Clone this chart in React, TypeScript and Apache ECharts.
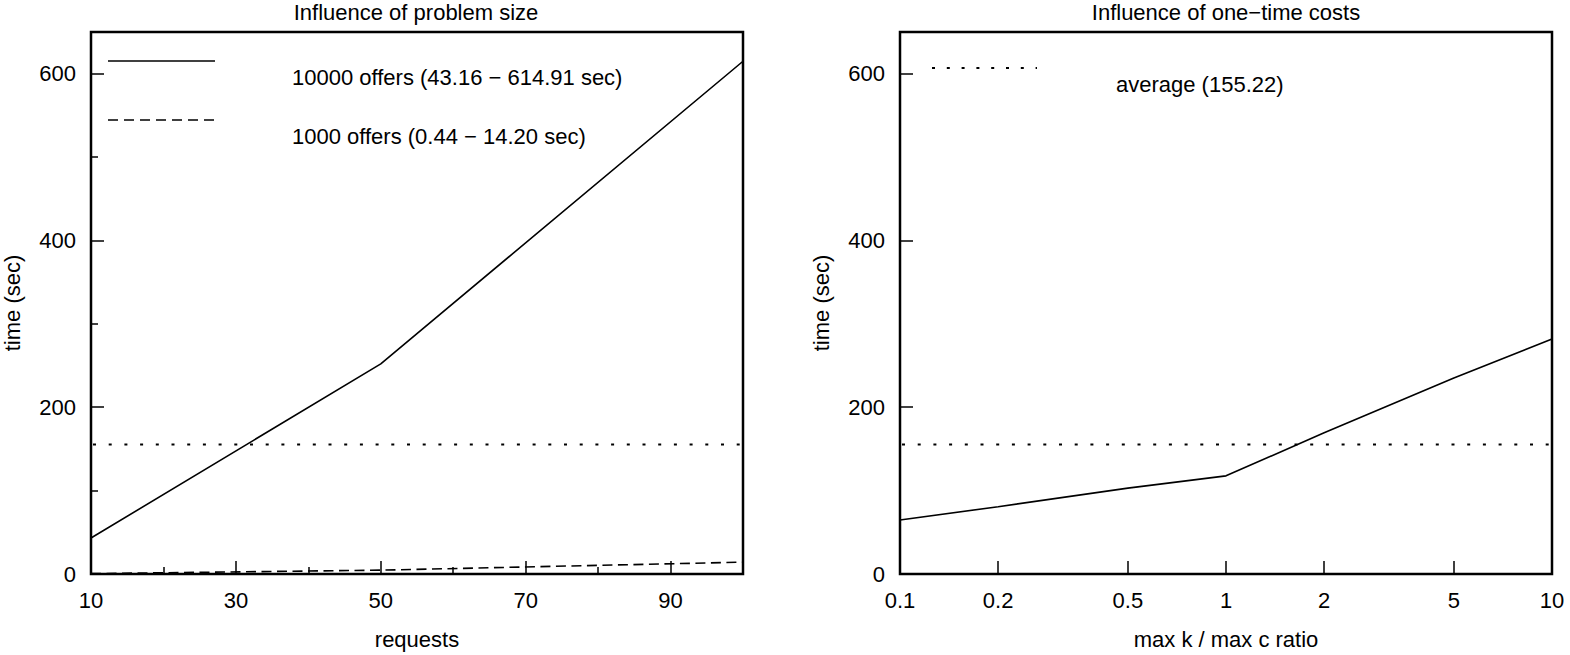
import React, { useEffect, useRef } from "react";
import * as echarts from "echarts";

// ---- data ----
const REQUESTS = [10, 50, 100];
const TIME_10000 = [43.16, 252, 614.91];
const TIME_1000 = [0.44, 4.6, 14.2];
const OFFERS = [10000, 1000];

const RATIOS = [0.1, 0.2, 0.5, 1, 2, 5, 10];
const TIME_RATIO = [64.8, 80.7, 103, 117.7, 169.4, 235, 281.9];

const AVERAGE = 155.22;

const X1_LABELS = [10, 30, 50, 70, 90];
const X1_MAJOR_TICKS = [30, 50, 70, 90];
const X1_MINOR_TICKS = [20, 40, 60, 80];
const Y_LABELS = [0, 200, 400, 600];
const Y_MINOR_TICKS = [100, 300, 500];
const X2_LABELS = [0.1, 0.2, 0.5, 1, 2, 5, 10];
const X2_TICKS = [0.2, 0.5, 1, 2, 5];

const TITLES = ["Influence of problem size", "Influence of one\u2212time costs"];
const X_NAMES = ["requests", "max k / max c ratio"];
const Y_NAME = "time (sec)";

const FONT = '"Liberation Sans", Arial, sans-serif';
const FS = 22;
const DOTS = [3, 12.7];

const pairs = (xs: number[], ys: number[]) => xs.map((x, i) => [x, ys[i]]);
const rangeText = (ys: number[]) =>
  `${Math.min(...ys).toFixed(2)} \u2212 ${Math.max(...ys).toFixed(2)} sec`;

export default function App() {
  const ref = useRef<HTMLDivElement>(null);
  useEffect(() => {
    if (!ref.current) return;
    const chart = echarts.init(ref.current, undefined, { renderer: "svg" });
    const grids = [
      { left: 89, top: 32, width: 654, height: 545 },
      { left: 900, top: 32, width: 652, height: 545 },
    ];
    const axisLabel = { color: "#000", fontSize: FS, fontFamily: FONT, margin: 15 };
    const nameText = { color: "#000", fontSize: FS, fontFamily: FONT };
    const black = { color: "#000", width: 1.5 };
    const lineSeries = (xi: number, yi: number, data: number[][], type: any, width = 1.6, dashOffset = 0) => ({
      type: "line",
      xAxisIndex: xi,
      yAxisIndex: yi,
      data,
      symbol: "none",
      showSymbol: false,
      silent: true,
      lineStyle: { color: "#000", width, type, cap: "butt", dashOffset },
    });
    const yMain = (gi: number) => ({
      type: "value",
      gridIndex: gi,
      min: 0,
      max: 650,
      position: "left",
      name: Y_NAME,
      nameLocation: "middle",
      nameGap: 68,
      nameRotate: 90,
      nameTextStyle: nameText,
      axisLine: { show: false },
      splitLine: { show: false },
      axisTick: { show: true, inside: true, length: 13, lineStyle: black, customValues: Y_LABELS },
      axisLabel: { ...axisLabel, customValues: Y_LABELS },
    });

    const option: any = {
      animation: false,
      backgroundColor: "#fff",
      textStyle: { fontFamily: FONT },
      grid: grids.map((g) => ({
        ...g,
        show: true,
        borderColor: "#000",
        borderWidth: 2.5,
        backgroundColor: "transparent",
        containLabel: false,
      })),
      xAxis: [
        {
          type: "value",
          gridIndex: 0,
          min: 10,
          max: 100,
          position: "bottom",
          name: X_NAMES[0],
          nameLocation: "middle",
          nameGap: 54,
          nameTextStyle: nameText,
          axisLine: { show: false },
          splitLine: { show: false },
          axisTick: { show: true, inside: true, length: 13, lineStyle: black, customValues: X1_MAJOR_TICKS },
          axisLabel: { ...axisLabel, customValues: X1_LABELS },
        },
        {
          type: "value",
          gridIndex: 0,
          min: 10,
          max: 100,
          position: "bottom",
          axisLine: { show: false },
          splitLine: { show: false },
          axisTick: { show: true, inside: true, length: 7, lineStyle: black, customValues: X1_MINOR_TICKS },
          axisLabel: { show: false },
        },
        {
          type: "log",
          logBase: 10,
          gridIndex: 1,
          min: 0.1,
          max: 10,
          position: "bottom",
          name: X_NAMES[1],
          nameLocation: "middle",
          nameGap: 54,
          nameTextStyle: nameText,
          axisLine: { show: false },
          splitLine: { show: false },
          minorTick: { show: false },
          axisTick: { show: true, inside: true, length: 13, lineStyle: black, customValues: X2_TICKS },
          axisLabel: { ...axisLabel, customValues: X2_LABELS },
        },
      ],
      yAxis: [
        yMain(0),
        {
          type: "value",
          gridIndex: 0,
          min: 0,
          max: 650,
          position: "left",
          axisLine: { show: false },
          splitLine: { show: false },
          axisTick: { show: true, inside: true, length: 7, lineStyle: black, customValues: Y_MINOR_TICKS },
          axisLabel: { show: false },
        },
        yMain(1),
      ],
      series: [
        lineSeries(0, 0, pairs(REQUESTS, TIME_10000), "solid"),
        lineSeries(0, 0, pairs(REQUESTS, TIME_1000), [10, 5.5]),
        lineSeries(0, 0, [[10, AVERAGE], [100, AVERAGE]], DOTS, 2, -2),
        lineSeries(2, 2, pairs(RATIOS, TIME_RATIO), "solid"),
        lineSeries(2, 2, [[0.1, AVERAGE], [10, AVERAGE]], DOTS, 2, -2),
      ],
      graphic: [
        // titles
        ...TITLES.map((t, i) => ({
          type: "text",
          x: grids[i].left + grids[i].width / 2,
          y: 12,
          style: { text: t, fontSize: FS, fontFamily: FONT, fill: "#000", textAlign: "center", textVerticalAlign: "middle" },
        })),
        // legend left
        { type: "line", shape: { x1: 108, y1: 61, x2: 215, y2: 61 }, style: { stroke: "#000", lineWidth: 1.6 } },
        {
          type: "text",
          x: 292,
          y: 77,
          style: { text: `${OFFERS[0]} offers (${rangeText(TIME_10000)})`, fontSize: FS, fontFamily: FONT, fill: "#000", textAlign: "left", textVerticalAlign: "middle" },
        },
        { type: "line", shape: { x1: 108, y1: 120, x2: 215, y2: 120 }, style: { stroke: "#000", lineWidth: 1.6, lineDash: [10, 6] } },
        {
          type: "text",
          x: 292,
          y: 136,
          style: { text: `${OFFERS[1]} offers (${rangeText(TIME_1000)})`, fontSize: FS, fontFamily: FONT, fill: "#000", textAlign: "left", textVerticalAlign: "middle" },
        },
        // legend right
        { type: "line", shape: { x1: 932, y1: 68, x2: 1037, y2: 68 }, style: { stroke: "#000", lineWidth: 2, lineDash: [3, 11.8] } },
        {
          type: "text",
          x: 1116,
          y: 84,
          style: { text: `average (${AVERAGE.toFixed(2)})`, fontSize: FS, fontFamily: FONT, fill: "#000", textAlign: "left", textVerticalAlign: "middle" },
        },
      ],
    };
    chart.setOption(option);
    return () => chart.dispose();
  }, []);
  return (
    <div
      ref={ref}
      style={{ position: "absolute", left: 0, top: 0, width: 1570, height: 655, background: "#fff" }}
    />
  );
}
